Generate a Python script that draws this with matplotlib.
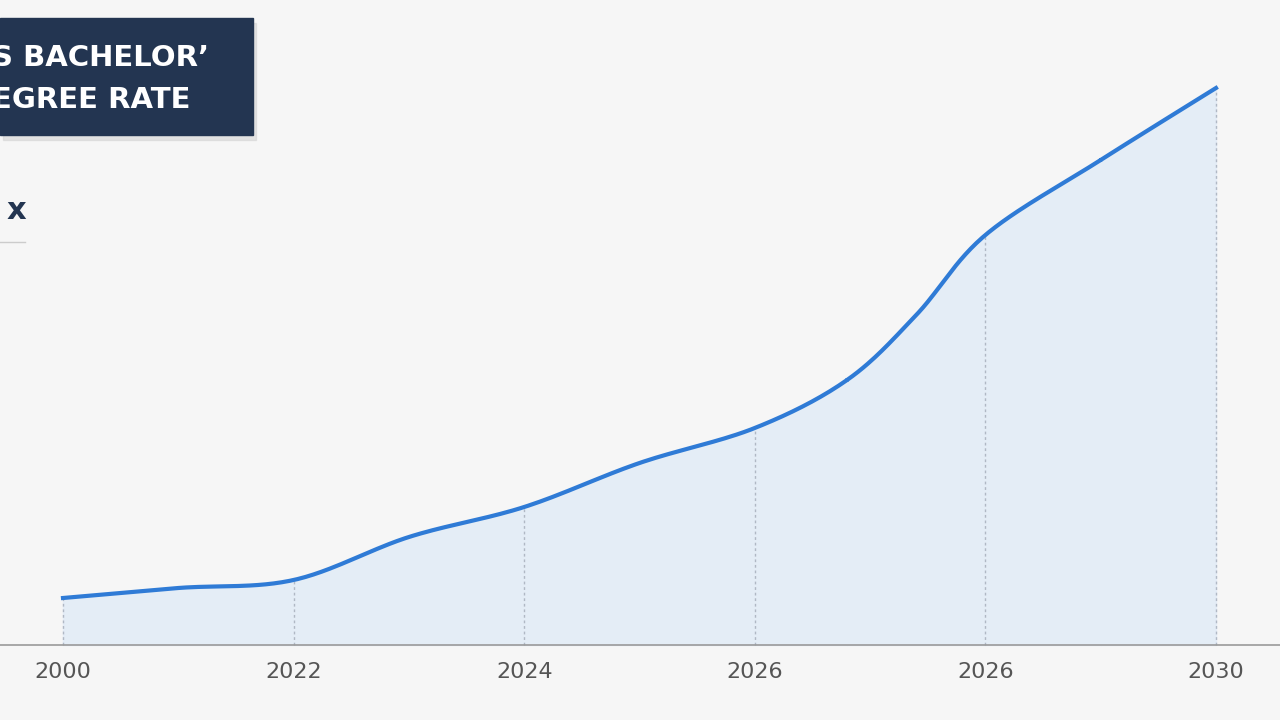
import matplotlib
matplotlib.use("Agg")
import matplotlib.pyplot as plt
import numpy as np
from matplotlib.patches import Rectangle

tick_labels = ["2000", "2022", "2024", "2026", "2026", "2030"]
tick_pos = [0, 1, 2, 3, 4, 5]
# values (relative units, higher = larger rate)
xs = [0, 0.5, 1, 1.5, 2, 2.5, 3, 3.4, 3.7, 4, 4.5, 5]
vals = [47, 57, 65, 108, 138, 182, 217, 265, 330, 410, 485, 557]
tick_vals = [47, 65, 138, 217, 410, 557]

fig = plt.figure(figsize=(12.8, 7.2), dpi=100)
fig.patch.set_facecolor("#f6f6f6")
ax = fig.add_axes([0, 0, 1, 1])
ax.set_facecolor("#f6f6f6")
step = 230.6
ax.set_xlim(-63 / step, (1280 - 63) / step)
ax.set_ylim(-75, 645)
ax.axis("off")

# smooth curve through read points (monotone-ish cubic via numpy polyfit per segment)
from numpy import interp
xf = np.linspace(0, 5, 400)
# Catmull-Rom
def cr(xp, yp, n=30):
    X, Y = [], []
    P = list(zip(xp, yp))
    P = [P[0]] + P + [P[-1]]
    for i in range(1, len(P) - 2):
        p0, p1, p2, p3 = map(np.array, P[i-1:i+3])
        t = np.linspace(0, 1, n)[:, None]
        c = 0.5 * ((2*p1) + (-p0+p2)*t + (2*p0-5*p1+4*p2-p3)*t**2 + (-p0+3*p1-3*p2+p3)*t**3)
        X += list(c[:, 0]); Y += list(c[:, 1])
    return np.array(X), np.array(Y)
cx, cy = cr(xs, vals)
ax.fill_between(cx, 0, cy, color="#e3ecf7", alpha=0.9, zorder=1)
ax.plot(cx, cy, color="#2f7bd6", lw=3, zorder=3)
for p, v in zip(tick_pos, tick_vals):
    ax.plot([p, p], [0, v], color="#b0b8c4", lw=1, ls=(0, (2, 2)), zorder=2)
    ax.text(p, -27, tick_labels[tick_pos.index(p)], ha="center", va="center",
            fontsize=16, color="#555555")
ax.axhline(0, color="#9a9a9a", lw=1.2, zorder=2)

# title box
fig.patches.append(Rectangle((3/1280, 1-140/720), 253/1280, 117/720, transform=fig.transFigure,
                             color="#cfcfcf", alpha=0.5, zorder=4))
fig.patches.append(Rectangle((0, 1-135/720), 253/1280, 117/720, transform=fig.transFigure,
                             color="#233551", zorder=5))
fig.text(-8/1280, 1-58/720, "S BACHELOR’", color="white", fontsize=21, fontweight="bold",
         va="center", ha="left", zorder=6)
fig.text(-8/1280, 1-100/720, "EGREE RATE", color="white", fontsize=21, fontweight="bold",
         va="center", ha="left", zorder=6)
fig.text(7/1280, 1-210/720, "x", color="#233551", fontsize=22, fontweight="bold",
         va="center", ha="left")
fig.add_artist(plt.Line2D([0, 25/1280], [1-242/720]*2, color="#cccccc", lw=1))
fig.savefig("out.png", dpi=100, facecolor=fig.get_facecolor())
